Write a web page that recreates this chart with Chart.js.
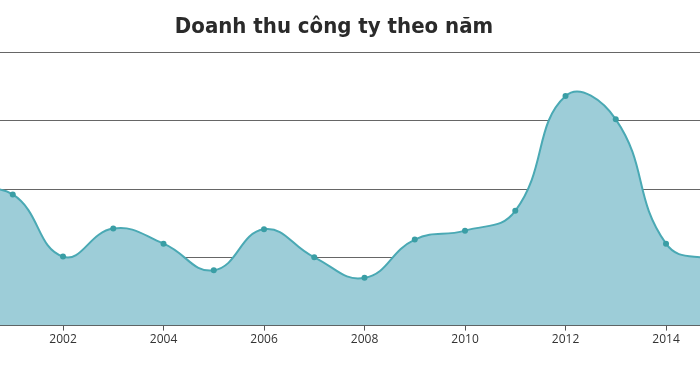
<!DOCTYPE html>
<html>
<head>
<meta charset="utf-8">
<script src="https://cdn.jsdelivr.net/npm/chart.js@4.4.1/dist/chart.umd.min.js"></script>
<style>
  html, body { margin: 0; padding: 0; background: #fff; overflow: hidden; }
  #wrap { position: absolute; left: -36px; top: 0; width: 740px; height: 366px; }
</style>
</head>
<body>
<div id="wrap"><canvas id="revenueChart"></canvas></div>
<script>
// revenue per year (2000 and 2015 sit just outside the visible window)
const years = [2000, 2001, 2002, 2003, 2004, 2005, 2006, 2007, 2008, 2009, 2010, 2011, 2012, 2013, 2014, 2015];
const revenue = [19.5, 19.2, 10.1, 14.2, 12.0, 8.1, 14.1, 10.0, 7.0, 12.6, 13.9, 16.8, 33.6, 30.2, 12.0, 9.5];
const yearTicks = [2002, 2004, 2006, 2008, 2010, 2012, 2014];
const yTicks = [0, 10, 20, 30, 40];

const ctx = document.getElementById("revenueChart").getContext("2d");

new Chart(ctx, {
    type: 'line',
    data: {
        datasets: [{
            label: 'Doanh thu',
            data: years.map((y, i) => ({ x: y, y: revenue[i] })),
            borderColor: '#4aa9b4',
            backgroundColor: '#9dcdd8',
            borderWidth: 2,
            fill: 'origin',
            tension: 0.45,
            pointRadius: 3,
            pointBackgroundColor: '#3a9ea5',
            pointBorderWidth: 0
        }]
    },
    options: {
        responsive: true,
        maintainAspectRatio: false,
        animation: false,
        layout: { padding: { left: 0, right: 0, top: 0, bottom: 17 } },
        scales: {
            x: {
                type: 'linear',
                min: 2000.746,
                max: 2014.676,
                afterBuildTicks: scale => { scale.ticks = yearTicks.map(v => ({ value: v })); },
                ticks: {
                    callback: v => String(v),
                    color: '#333',
                    font: { family: 'Open Sans', size: 12 },
                    padding: 2,
                    maxRotation: 0
                },
                grid: { drawOnChartArea: false, drawTicks: true, tickLength: 5, color: '#555' },
                border: { color: '#555', width: 1 }
            },
            y: {
                min: 0,
                max: 40,
                afterBuildTicks: scale => { scale.ticks = yTicks.map(v => ({ value: v })); },
                afterFit: scale => { scale.width = 36; },
                ticks: { display: false },
                grid: { color: '#666', drawTicks: false },
                border: { display: false }
            }
        },
        plugins: {
            legend: { display: false },
            tooltip: { enabled: false },
            title: {
                display: true,
                text: 'Doanh thu công ty theo năm',
                color: '#2a2a2a',
                font: { family: "'DejaVu Sans Condensed', 'Liberation Sans Narrow', sans-serif", size: 22, weight: 'bold' },
                padding: { top: 14, bottom: 12 }
            }
        }
    }
});
</script>
</body>
</html>
